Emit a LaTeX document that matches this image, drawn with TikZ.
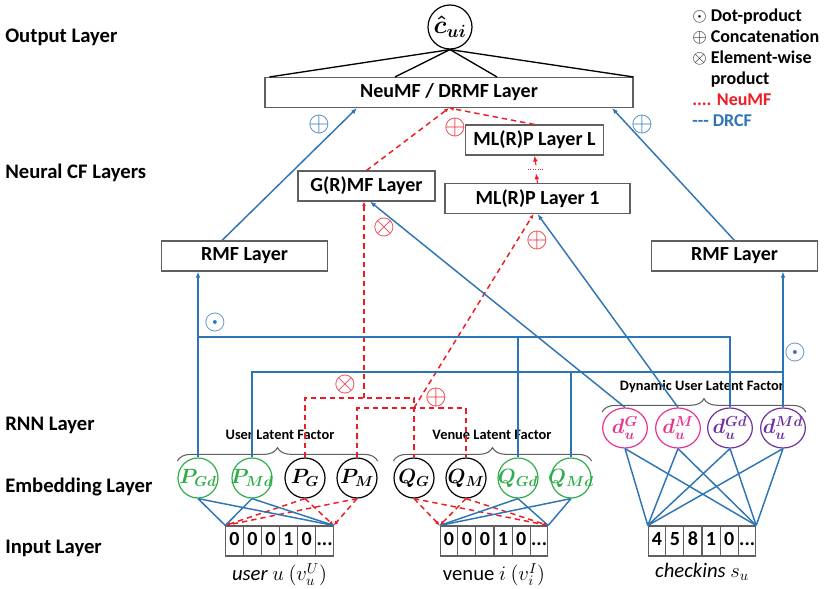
\documentclass[tikz,border=0pt]{standalone}
\usepackage{fix-cm}
\usepackage{amsmath}
\usepackage{fontspec}
\setmainfont{Carlito}
\usetikzlibrary{arrows.meta,positioning,calc,shapes.geometric,shapes.multipart,decorations.pathreplacing}

\definecolor{drcfblue}{HTML}{2E75B6}
\definecolor{neured}{HTML}{EE1C25}
\definecolor{embgreen}{HTML}{2EAD4B}
\definecolor{dynpink}{HTML}{E6338C}
\definecolor{dynpurple}{HTML}{7030A0}
\definecolor{boxgray}{HTML}{5F5F5F}

\newcommand{\vcell}[1]{\makebox[7pt]{\rule[-4pt]{0pt}{15pt}#1}}
\newcommand{\opsym}[2][2.1]{{\fontsize{10}{10}\selectfont\scalebox{#1}{$#2$}}}
\newcommand{\emblab}[1]{\makebox[20pt]{$\boldsymbol{#1}$}}

\begin{document}
\begin{tikzpicture}[
    x=0.75pt, y=-0.75pt,
    >={Latex[length=4.5pt,width=3.5pt]},
    layerlab/.style={anchor=west, inner sep=0pt, font=\fontsize{15.5}{17}\selectfont\bfseries},
    cfbox/.style={draw=boxgray, fill=white, line width=0.8pt, inner sep=0pt,
                  minimum height=22.5pt, font=\fontsize{15}{17}\selectfont\bfseries},
    emb/.style={ellipse, draw, line width=0.9pt, inner sep=0pt, minimum width=30pt,
                minimum height=30pt, font=\fontsize{15.5}{15.5}\selectfont},
    dynu/.style={emb, minimum width=33.5pt},
    vec/.style={rectangle split, rectangle split horizontal, rectangle split parts=6,
                draw=boxgray, line width=0.8pt, inner xsep=2.875pt, inner ysep=3.75pt,
                font=\fontsize{15}{15}\selectfont\bfseries},
    vlab/.style={font=\fontsize{15.5}{15.5}\selectfont, inner sep=1pt},
    grp/.style={font=\fontsize{10.8}{12}\selectfont\bfseries, inner sep=0pt},
    brc/.style={draw=boxgray, line width=0.8pt, decorate, decoration={brace, amplitude=10pt}},
    neu/.style={draw=neured, line width=1.1pt, dash pattern=on 4pt off 3pt},
    neuarr/.style={neu, -{Latex[length=3.5pt,width=3pt]}},
    drcf/.style={draw=drcfblue, line width=1.1pt},
    op/.style={inner sep=0pt},
  ]
    \useasboundingbox (0,0) rectangle (829,589);
    % --- layer names ------------------------------------------------------
    \node[layerlab] (lout) at (5,37)  {Output Layer};
    \node[layerlab] (lncf) at (5,173) {Neural CF Layers};
    \node[layerlab] (lrnn) at (5,425) {RNN Layer};
    \node[layerlab] (lemb) at (5,487) {Embedding Layer};
    \node[layerlab] (lin)  at (5,548) {Input Layer};
    % --- legend -----------------------------------------------------------
    \node[anchor=north west, inner sep=0pt, font=\fontsize{13.5}{15.75}\selectfont\bfseries]
      (leg) at (692,7) {\begin{tabular}{@{}l@{\hspace{3pt}}l@{}}
        \opsym[1.4]{\odot} & Dot-product\\
        \opsym[1.4]{\oplus} & Concatenation\\
        \opsym[1.4]{\otimes} & Element-wise\\
         & product\\
        \multicolumn{2}{@{}l@{}}{\color{neured}.... NeuMF}\\
        \multicolumn{2}{@{}l@{}}{\color{drcfblue}-{}-{}- DRCF}
      \end{tabular}};
    % --- output and CF layers ---------------------------------------------
    \node[emb, circle, minimum size=33pt, font=\fontsize{19}{19}\selectfont] (out) at (450,27)
      {\emblab{\hat{c}_{ui}}};
    \node[cfbox, minimum width=276pt]    (neumf) at (449,92.5)  {NeuMF / DRMF Layer};
    \node[cfbox, minimum width=104pt]    (mlpL)  at (534.5,140) {ML(R)P Layer L};
    \node[cfbox, minimum width=138.75pt] (mlp1)  at (537.5,198.5) {ML(R)P Layer 1};
    \node[cfbox, minimum width=102.75pt] (gmf)   at (366.5,186) {G(R)MF Layer};
    \node[cfbox, minimum width=125pt]    (rmfL)  at (244.5,256) {RMF Layer};
    \node[cfbox, minimum width=125pt]    (rmfR)  at (734.5,256) {RMF Layer};
    % --- embeddings -------------------------------------------------------
    \node[emb, draw=embgreen, text=embgreen] (pGd) at (198,478) {\emblab{P_{Gd}}};
    \node[emb, draw=embgreen, text=embgreen] (pMd) at (252,478) {\emblab{P_{Md}}};
    \node[emb] (pG) at (305,478) {\emblab{P_{G}}};
    \node[emb] (pM) at (357,478) {\emblab{P_{M}}};
    \node[emb] (qG) at (414,478) {\emblab{Q_{G}}};
    \node[emb] (qM) at (466,478) {\emblab{Q_{M}}};
    \node[emb, draw=embgreen, text=embgreen] (qGd) at (518,478) {\emblab{Q_{Gd}}};
    \node[emb, draw=embgreen, text=embgreen] (qMd) at (571,478) {\emblab{Q_{Md}}};
    % --- dynamic user factors ---------------------------------------------
    \node[dynu, draw=dynpink, text=dynpink]     (dG)  at (625,428) {\emblab{d_u^{G}}};
    \node[dynu, draw=dynpink, text=dynpink]     (dM)  at (678,428) {\emblab{d_u^{M}}};
    \node[dynu, draw=dynpurple, text=dynpurple] (dGd) at (730,428) {\emblab{d_u^{Gd}}};
    \node[dynu, draw=dynpurple, text=dynpurple] (dMd) at (783,428) {\emblab{d_u^{Md}}};
    % --- inputs -----------------------------------------------------------
    \node[vec] (uvec) at (279.5,541) {\vcell{0}\nodepart{two}\vcell{0}\nodepart{three}\vcell{0}%
      \nodepart{four}\vcell{1}\nodepart{five}\vcell{0}\nodepart{six}\vcell{...}};
    \node[vec] (ivec) at (494,541) {\vcell{0}\nodepart{two}\vcell{0}\nodepart{three}\vcell{0}%
      \nodepart{four}\vcell{1}\nodepart{five}\vcell{0}\nodepart{six}\vcell{...}};
    \node[vec] (svec) at (702,541) {\vcell{4}\nodepart{two}\vcell{5}\nodepart{three}\vcell{8}%
      \nodepart{four}\vcell{1}\nodepart{five}\vcell{0}\nodepart{six}\vcell{...}};
    \node[vlab, below=4pt of uvec] (ulab) {$\mathit{user}\ u\ (v_u^U)$};
    \node[vlab, below=4pt of ivec] (ilab) {venue $i\ (v_i^I)$};
    \node[vlab, below=4pt of svec] (slab) {$\mathit{checkins}\ s_u$};
    % --- braces -----------------------------------------------------------
    \coordinate (bry) at (0,461);
    \coordinate (dby) at (0,412);
    \draw[brc] (pGd.west |- bry) -- (pM.east |- bry);
    \draw[brc] (qG.west |- bry) -- (qMd.east |- bry);
    \draw[brc] (dG.west |- dby) -- (dMd.east |- dby);
    \node[grp] (ulf) at (280,435) {User Latent Factor};
    \node[grp] (ilf) at (492,435) {Venue Latent Factor};
    \node[grp] (dlf) at (702,387) {Dynamic User Latent Factor};
    % --- output edges -----------------------------------------------------
    \draw[line width=1pt] (out.south) -- ([xshift=3.75pt]neumf.north west);
    \draw[line width=1pt] (out.south) -- ([xshift=-40.5pt]neumf.north);
    \draw[line width=1pt] (out.south) -- ([xshift=36pt]neumf.north);
    \draw[line width=1pt] (out.south) -- (neumf.north east);
    % --- NeuMF (red) ------------------------------------------------------
    \coordinate (gj) at (364,398);
    \coordinate (mj) at (qG.north |- 0,408);
    \draw[neuarr] (gmf.north) -- (neumf.south);
    \draw[neuarr] (mlpL.north) -- (neumf.south);
    \coordinate (mlpmid) at ($(mlp1.north)!0.5!(mlpL.south)$);
    \draw[draw=neured, line width=0.8pt, ->] (mlp1.north) -- ([yshift=-3pt]mlpmid);
    \draw[draw=neured, line width=0.8pt, densely dotted] ([xshift=-6pt]mlpmid) -- ([xshift=6pt]mlpmid);
    \draw[draw=neured, line width=0.8pt, ->] ([yshift=3pt]mlpmid) -- (mlpL.south);
    \draw[neu] (pG.north) |- (gj) -| (qG.north);
    \draw[neuarr] (gj) -- (gj |- gmf.south);
    \draw[neu] (pM.north) |- (mj) -| (qM.north);
    \draw[neuarr] (mj) -- ([xshift=-3pt]mlp1.south);
    \draw[neuarr] (pG.south) -- (uvec.north west);
    \draw[neuarr] (pG.south) -- (uvec.north east);
    \draw[neuarr] (pM.south) -- (uvec.north west);
    \draw[neuarr] (pM.south) -- (uvec.north east);
    \draw[neuarr] (qG.south) -- (ivec.north west);
    \draw[neuarr] (qG.south) -- (ivec.north east);
    \draw[neuarr] (qM.south) -- (ivec.north west);
    \draw[neuarr] (qM.south) -- (ivec.north east);
    % --- DRCF (blue) ------------------------------------------------------
    \coordinate (dot1) at (0,337);
    \coordinate (dot2) at (0,372);
    \draw[drcf, ->] ([xshift=-16.9pt]rmfL.north) -- ([xshift=-69pt]neumf.south);
    \draw[drcf, ->] (rmfR.north) -- ([xshift=122.25pt]neumf.south);
    \draw[drcf, ->] (pGd.north) -- (pGd.north |- rmfL.south);
    \draw[drcf] (pGd.north |- dot1) -| (dGd.north);
    \draw[drcf] (qGd.north |- dot1) -- (qGd.north);
    \draw[drcf] (pMd.north) |- (dot2 -| dMd.north) -- (dMd.north);
    \draw[drcf, ->] (dMd.north |- dot2) -- (dMd.north |- rmfR.south);
    \draw[drcf] (qMd.north |- dot2) -- (qMd.north);
    \draw[drcf, ->] (dG.north) -- ([xshift=2.6pt]gmf.south);
    \draw[drcf, ->] (dM.north) -- (mlp1.south);
    \draw[drcf] (pGd.south) -- (uvec.north west) (pGd.south) -- (uvec.north east);
    \draw[drcf] (pMd.south) -- (uvec.north west) (pMd.south) -- (uvec.north east);
    \draw[drcf] (qGd.south) -- (ivec.north west) (qGd.south) -- (ivec.north east);
    \draw[drcf] (qMd.south) -- (ivec.north west) (qMd.south) -- (ivec.north east);
    \draw[drcf] (dG.south) -- (svec.north west) (dG.south) -- (svec.north east);
    \draw[drcf] (dM.south) -- (svec.north west) (dM.south) -- (svec.north east);
    \draw[drcf] (dGd.south) -- (svec.north west) (dGd.south) -- (svec.north east);
    \draw[drcf] (dMd.south) -- (svec.north west) (dMd.south) -- (svec.north east);
    % --- operators --------------------------------------------------------
    \node[op, text=drcfblue] (opl) at (319,124) {\opsym{\oplus}};
    \node[op, text=drcfblue] (opr) at (642,124) {\opsym{\oplus}};
    \node[op, text=neured]   (opt) at (455,127) {\opsym{\oplus}};
    \node[op, text=neured]   (ogu) at (384,227) {\opsym{\otimes}};
    \node[op, text=neured]   (ogl) at (345,384) {\opsym{\otimes}};
    \node[op, text=neured]   (omu) at (537,240) {\opsym{\oplus}};
    \node[op, text=neured]   (oml) at (436,397) {\opsym{\oplus}};
    \node[op, text=drcfblue] (odl) at (215,322) {\opsym{\odot}};
    \node[op, text=drcfblue] (odr) at (795,352) {\opsym{\odot}};
  \end{tikzpicture}
\end{document}
